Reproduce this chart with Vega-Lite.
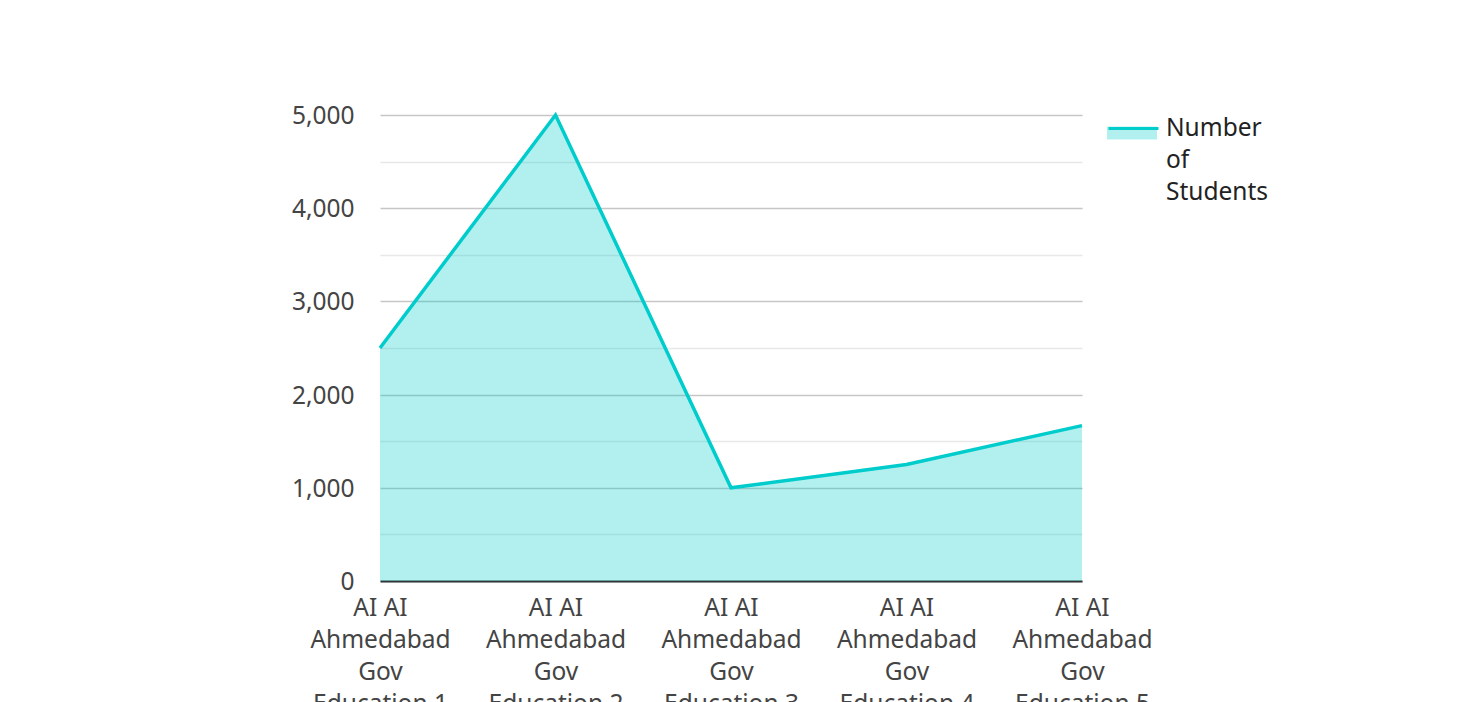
{
  "$schema": "https://vega.github.io/schema/vega-lite/v6.json",
  "width": 702,
  "height": 466,
  "autosize": {"type": "none"},
  "padding": {"left": 380, "top": 115, "right": 376, "bottom": 121},
  "background": "white",
  "config": {"font": "Noto Sans", "view": {"stroke": null}, "style": {"guide-label": {"lineHeight": 32}}},
  "data": {
    "values": [
      {"school": "AI AI Ahmedabad Gov Education 1", "students": 2500},
      {"school": "AI AI Ahmedabad Gov Education 2", "students": 5000},
      {"school": "AI AI Ahmedabad Gov Education 3", "students": 1000},
      {"school": "AI AI Ahmedabad Gov Education 4", "students": 1250},
      {"school": "AI AI Ahmedabad Gov Education 5", "students": 1667}
    ]
  },
  "encoding": {
    "x": {
      "field": "school",
      "type": "ordinal",
      "sort": null,
      "scale": {"type": "point", "padding": 0},
      "axis": {
        "title": null,
        "labelAngle": 0,
        "ticks": false,
        "grid": false,
        "domainColor": "#333333",
        "domainWidth": 2,
        "labelFontSize": 24.5,
        "labelLineHeight": 32,
        "labelColor": "#444444",
        "labelPadding": 15,
        "labelExpr": "[substring(datum.label,0,5), substring(datum.label,6,15), substring(datum.label,16,19), substring(datum.label,20)]"
      }
    },
    "y": {
      "field": "students",
      "type": "quantitative",
      "scale": {"domain": [0, 5000], "nice": false},
      "axis": {
        "title": null,
        "values": [0, 500, 1000, 1500, 2000, 2500, 3000, 3500, 4000, 4500, 5000],
        "labelExpr": "datum.value % 1000 === 0 ? datum.label : ''",
        "domain": false,
        "ticks": false,
        "labelPadding": 26,
        "labelOffset": 1.5,
        "labelFontSize": 24.5,
        "labelColor": "#444444",
        "gridColor": {"condition": {"test": "datum.value % 1000 === 0", "value": "#c6c6c6"}, "value": "#e8e8e8"},
        "gridWidth": 1.5
      }
    }
  },
  "resolve": {"legend": {"fill": "independent", "stroke": "independent"}, "scale": {"fill": "independent", "stroke": "independent"}},
  "layer": [
    {
      "mark": {"type": "area", "fillOpacity": 0.3},
      "encoding": {
        "fill": {
          "datum": "Number of Students",
          "scale": {"range": ["#00cccc"]},
          "legend": {
            "title": null,
            "orient": "none",
            "legendX": 727,
            "legendY": -25,
            "symbolType": "M-1,0.46H1V0.98H-1Z",
            "symbolSize": 2500,
            "symbolOpacity": 0.3,
            "symbolStrokeWidth": 0,
            "labelExpr": "''"
          }
        }
      }
    },
    {
      "mark": {"type": "line", "strokeWidth": 3.5},
      "encoding": {
        "stroke": {
          "datum": "Number of Students",
          "scale": {"range": ["#00cccc"]},
          "legend": {
            "title": null,
            "orient": "none",
            "legendX": 727,
            "legendY": -25,
            "symbolType": "M-1,0.48H1",
            "symbolSize": 2500,
            "symbolStrokeWidth": 3,
            "labelFontSize": 24.5,
            "labelColor": "#222222",
            "labelOffset": 6,
            "labelBaseline": "top",
            "labelExpr": "split(datum.label, ' ')"
          }
        }
      }
    }
  ]
}
